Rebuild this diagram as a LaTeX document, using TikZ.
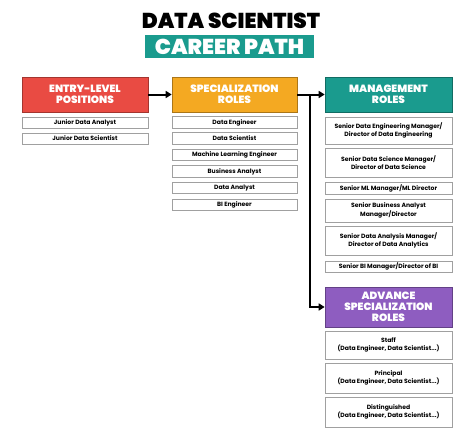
\documentclass[tikz,border=0pt]{standalone}
\usepackage{fontspec}
\setmainfont{Poppins}
\newfontfamily\blackfont{Poppins Black}
\usetikzlibrary{arrows.meta}

\definecolor{entryred}{RGB}{233,75,67}
\definecolor{specorange}{RGB}{244,169,34}
\definecolor{mgmtteal}{RGB}{26,155,142}
\definecolor{advpurple}{RGB}{142,93,192}
\definecolor{subgray}{RGB}{160,160,160}

\tikzset{
  headbox/.style={draw=#1!70!black, line width=0.6pt, fill=#1, text=white, align=center,
    inner sep=0pt, font=\blackfont\fontsize{10.5}{11}\selectfont},
  subbox/.style={draw=subgray, line width=0.6pt, fill=white, align=center, inner sep=0pt,
    font=\bfseries\fontsize{6.1}{8.4}\selectfont},
  path arrow/.style={line width=2pt, -{Triangle[length=6pt,width=7pt]}}
}

\begin{document}
\begin{tikzpicture}[x=1pt,y=-1pt]
\useasboundingbox (0,0) rectangle (474,444);

% Title
\node (title) at (231,21) [font=\blackfont\fontsize{21.5}{24}\selectfont] {DATA SCIENTIST};
\node (subtitle) at (229.5,46.5) [fill=mgmtteal, text=white, inner sep=0pt, minimum width=169pt, minimum height=23pt,
  font=\blackfont\fontsize{21.5}{24}\selectfont] {CAREER PATH};

% Entry level
\node (entry) at (85,94.5) [headbox=entryred, minimum width=126pt, minimum height=35pt] {ENTRY-LEVEL\\POSITIONS};
\node (entry1) at (85,122.5) [subbox, minimum width=126pt, minimum height=11pt] {Junior Data Analyst};
\node (entry2) at (85,138.5) [subbox, minimum width=126pt, minimum height=11pt] {Junior Data Scientist};

% Specialization
\node (spec) at (234.5,94.5) [headbox=specorange, minimum width=125pt, minimum height=35pt] {SPECIALIZATION\\ROLES};
\node (spec1) at (234.5,122.5) [subbox, minimum width=125pt, minimum height=11.5pt] {Data Engineer};
\node (spec2) at (234.5,138.5) [subbox, minimum width=125pt, minimum height=11.5pt] {Data Scientist};
\node (spec3) at (234.5,155) [subbox, minimum width=125pt, minimum height=11.5pt] {Machine Learning Engineer};
\node (spec4) at (234.5,171.5) [subbox, minimum width=125pt, minimum height=11.5pt] {Business Analyst};
\node (spec5) at (234.5,188) [subbox, minimum width=125pt, minimum height=11.5pt] {Data Analyst};
\node (spec6) at (234.5,205) [subbox, minimum width=125pt, minimum height=11.5pt] {BI Engineer};

% Management
\node (mgmt) at (388.5,94.5) [headbox=mgmtteal, minimum width=127pt, minimum height=35pt] {MANAGEMENT\\ROLES};
\node (mgmt1) at (388.5,130.5) [subbox, minimum width=127pt, minimum height=27pt] {Senior Data Engineering Manager/\\Director of Data Engineering};
\node (mgmt2) at (388.5,162.5) [subbox, minimum width=127pt, minimum height=29pt] {Senior Data Science Manager/\\Director of Data Science};
\node (mgmt3) at (388.5,188) [subbox, minimum width=127pt, minimum height=12pt] {Senior ML Manager/ML Director};
\node (mgmt4) at (388.5,210.5) [subbox, minimum width=127pt, minimum height=23pt] {Senior Business Analyst\\Manager/Director};
\node (mgmt5) at (388.5,240.5) [subbox, minimum width=127pt, minimum height=29pt] {Senior Data Analysis Manager/\\Director of Data Analytics};
\node (mgmt6) at (388.5,266.5) [subbox, minimum width=127pt, minimum height=11pt] {Senior BI Manager/Director of BI};

% Advance specialization
\node (adv) at (388.5,307) [headbox=advpurple, minimum width=127pt, minimum height=40pt] {ADVANCE\\SPECIALIZATION\\ROLES};
\node (adv1) at (388.5,345) [subbox, minimum width=127pt, minimum height=28pt] {Staff\\(Data Engineer, Data Scientist...)};
\node (adv2) at (388.5,378) [subbox, minimum width=127pt, minimum height=30pt] {Principal\\(Data Engineer, Data Scientist...)};
\node (adv3) at (388.5,412) [subbox, minimum width=127pt, minimum height=30pt] {Distinguished\\(Data Engineer, Data Scientist...)};

% Connectors
\coordinate (split) at (310,94.5);
\draw [path arrow] (entry.east) -- (spec.west);
\draw [path arrow] (spec.east) -- (mgmt.west);
\draw [path arrow] (split) |- (adv.west);

\end{tikzpicture}
\end{document}
